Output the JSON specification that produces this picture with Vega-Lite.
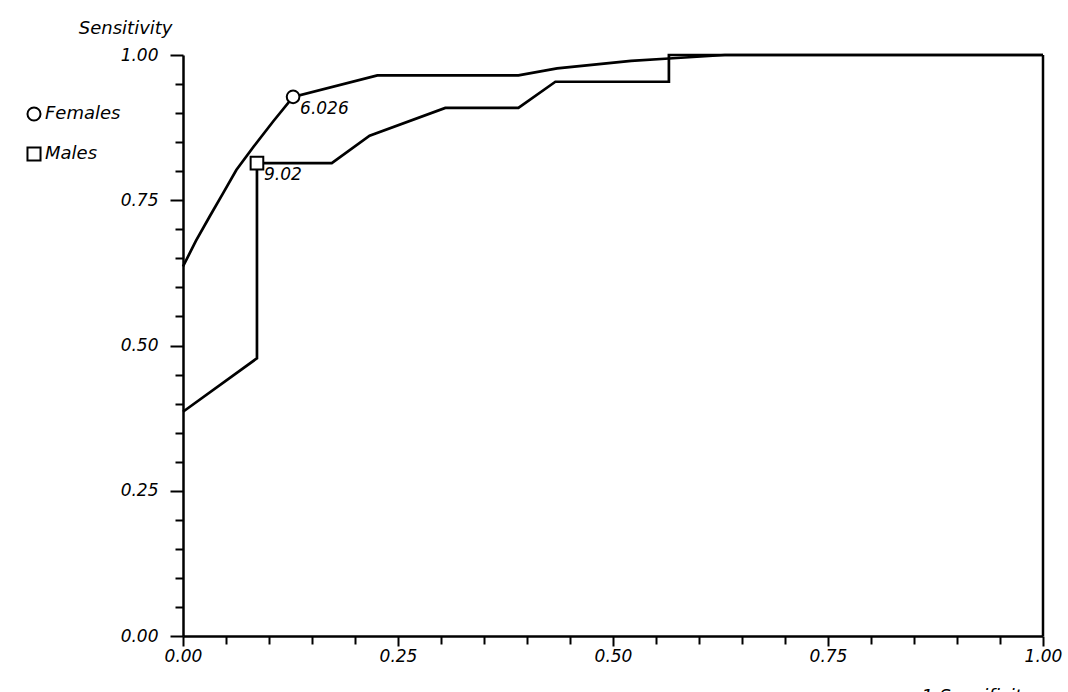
{
  "$schema": "https://vega.github.io/schema/vega-lite/v6.json",
  "width": 860,
  "height": 581,
  "autosize": "none",
  "padding": {"left": 183, "top": 55, "right": 25, "bottom": 56},
  "background": "white",
  "config": {
    "view": {"stroke": null},
    "font": "DejaVu Sans",
    "axis": {
      "domainColor": "black",
      "domainWidth": 2.5,
      "tickColor": "black",
      "tickWidth": 2,
      "grid": false,
      "labelFont": "DejaVu Sans",
      "labelFontStyle": "italic",
      "labelFontSize": 17,
      "labelColor": "black",
      "labelOverlap": false,
      "titleFont": "DejaVu Sans",
      "titleFontStyle": "italic",
      "titleFontWeight": "normal",
      "titleFontSize": 18,
      "titleColor": "black"
    }
  },
  "datasets": {
    "roc": [
      {"group": "Females", "fpr": 0.0, "tpr": 0.636},
      {"group": "Females", "fpr": 0.015, "tpr": 0.68},
      {"group": "Females", "fpr": 0.031, "tpr": 0.722},
      {"group": "Females", "fpr": 0.047, "tpr": 0.763},
      {"group": "Females", "fpr": 0.062, "tpr": 0.802},
      {"group": "Females", "fpr": 0.082, "tpr": 0.842},
      {"group": "Females", "fpr": 0.105, "tpr": 0.886},
      {"group": "Females", "fpr": 0.128, "tpr": 0.928},
      {"group": "Females", "fpr": 0.226, "tpr": 0.965},
      {"group": "Females", "fpr": 0.39, "tpr": 0.965},
      {"group": "Females", "fpr": 0.435, "tpr": 0.977},
      {"group": "Females", "fpr": 0.521, "tpr": 0.99},
      {"group": "Females", "fpr": 0.565, "tpr": 0.994},
      {"group": "Females", "fpr": 0.63, "tpr": 1.0},
      {"group": "Females", "fpr": 1.0, "tpr": 1.0},
      {"group": "Males", "fpr": 0.0, "tpr": 0.386},
      {"group": "Males", "fpr": 0.086, "tpr": 0.478},
      {"group": "Males", "fpr": 0.086, "tpr": 0.814},
      {"group": "Males", "fpr": 0.173, "tpr": 0.814},
      {"group": "Males", "fpr": 0.217, "tpr": 0.861},
      {"group": "Males", "fpr": 0.305, "tpr": 0.909},
      {"group": "Males", "fpr": 0.39, "tpr": 0.909},
      {"group": "Males", "fpr": 0.433, "tpr": 0.954},
      {"group": "Males", "fpr": 0.565, "tpr": 0.954},
      {"group": "Males", "fpr": 0.565, "tpr": 1.0},
      {"group": "Males", "fpr": 1.0, "tpr": 1.0}
    ],
    "cutoffs": [
      {"group": "Females", "fpr": 0.128, "tpr": 0.928, "cutoff": "6.026"},
      {"group": "Males", "fpr": 0.086, "tpr": 0.814, "cutoff": "9.02"}
    ],
    "frame": [
      {"fpr": 1.0, "tpr": 0.0, "tpr2": 1.0}
    ]
  },
  "encoding": {
    "x": {
      "field": "fpr",
      "type": "quantitative",
      "scale": {"domain": [0, 1], "nice": false, "zero": false},
      "axis": {
        "title": "1-Specificity",
        "values": [0, 0.05, 0.1, 0.15, 0.2, 0.25, 0.3, 0.35, 0.4, 0.45, 0.5, 0.55, 0.6, 0.65, 0.7, 0.75, 0.8, 0.85, 0.9, 0.95, 1],
        "labelExpr": "abs(datum.value * 4 - round(datum.value * 4)) < 0.001 ? format(datum.value, '.2f') : ''",
        "tickSize": {"condition": {"test": "abs(datum.value * 4 - round(datum.value * 4)) < 0.001", "value": 10}, "value": 8},
        "labelPadding": 2,
        "labelFlush": false,
        "titleAnchor": "end",
        "titleAlign": "right",
        "titleBaseline": "alphabetic",
        "titleX": 849,
        "titleY": 65
      }
    },
    "y": {
      "field": "tpr",
      "type": "quantitative",
      "scale": {"domain": [0, 1], "nice": false, "zero": false},
      "axis": {
        "title": "Sensitivity",
        "values": [0, 0.05, 0.1, 0.15, 0.2, 0.25, 0.3, 0.35, 0.4, 0.45, 0.5, 0.55, 0.6, 0.65, 0.7, 0.75, 0.8, 0.85, 0.9, 0.95, 1],
        "labelExpr": "abs(datum.value * 4 - round(datum.value * 4)) < 0.001 ? format(datum.value, '.2f') : ''",
        "tickSize": {"condition": {"test": "abs(datum.value * 4 - round(datum.value * 4)) < 0.001", "value": 13}, "value": 8},
        "labelPadding": 12,
        "labelFlush": false,
        "titleAngle": 0,
        "titleAlign": "right",
        "titleBaseline": "alphabetic",
        "titleX": -11,
        "titleY": -22
      }
    }
  },
  "resolve": {
    "scale": {"shape": "independent"},
    "legend": {"shape": "independent"}
  },
  "layer": [
    {
      "data": {"name": "roc"},
      "mark": {"type": "line", "color": "black", "strokeWidth": 2.7, "interpolate": "linear"},
      "encoding": {
        "detail": {"field": "group"}
      }
    },
    {
      "data": {"name": "frame"},
      "mark": {"type": "rule", "color": "black", "strokeWidth": 2.5},
      "encoding": {
        "y2": {"field": "tpr2"}
      }
    },
    {
      "data": {"name": "cutoffs"},
      "mark": {"type": "point", "filled": true, "color": "white", "opacity": 1, "size": 160},
      "encoding": {
        "shape": {
          "field": "group",
          "type": "nominal",
          "scale": {"domain": ["Females", "Males"], "range": ["circle", "square"]},
          "legend": null
        }
      }
    },
    {
      "data": {"name": "cutoffs"},
      "mark": {"type": "point", "filled": false, "color": "black", "strokeWidth": 2, "size": 160, "opacity": 1},
      "encoding": {
        "shape": {
          "field": "group",
          "type": "nominal",
          "scale": {"domain": ["Females", "Males"], "range": ["circle", "square"]},
          "legend": {
            "title": null,
            "orient": "none",
            "legendX": -158,
            "legendY": 50,
            "labelFont": "DejaVu Sans",
            "labelFontStyle": "italic",
            "labelFontSize": 18,
            "labelColor": "black",
            "labelOffset": 2,
            "rowPadding": 18,
            "symbolSize": 170,
            "symbolStrokeColor": "black",
            "symbolStrokeWidth": 2
          }
        }
      }
    },
    {
      "data": {"name": "cutoffs"},
      "mark": {"type": "text", "align": "left", "baseline": "top", "dx": 7, "dy": 4, "fontSize": 17, "fontStyle": "italic", "font": "DejaVu Sans", "color": "black"},
      "encoding": {
        "text": {"field": "cutoff"}
      }
    }
  ]
}
